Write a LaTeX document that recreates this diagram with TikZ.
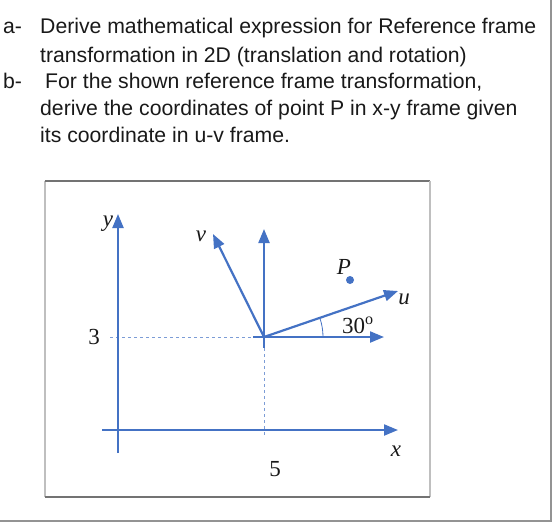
\documentclass[tikz,border=0pt]{standalone}
\usepackage{fontspec}
\setmainfont{Liberation Serif}
\newfontfamily\arialfont{Liberation Sans}
\usetikzlibrary{arrows.meta,calc}
\definecolor{axblue}{RGB}{68,114,196}
\definecolor{boxgray}{RGB}{120,120,120}
\begin{document}
\begin{tikzpicture}[x=1pt,y=-1pt,
  qtext/.style={anchor=base west,inner sep=0pt,font=\arialfont\fontsize{21.2}{24}\selectfont,text=black!90},
  axis/.style={draw=axblue,line width=2.2pt,-{Triangle[length=14pt,width=11pt]}},
  plain/.style={draw=axblue,line width=2.2pt},
  guide/.style={draw=axblue!70,line width=0.9pt,dash pattern=on 3pt off 3pt},
  lbl/.style={inner sep=0pt,font=\fontsize{23}{26}\selectfont,text=black!90}]
\useasboundingbox (0,0) rectangle (553,523);
% outer frame
\draw[boxgray!80,line width=2pt] (551,0) -- (551,521) -- (0,521);
% question text
\node[qtext] (la) at (3,33) {a-};
\node[qtext] (t1) at (40,33) {Derive mathematical expression for Reference frame};
\node[qtext] (t2) at (40,62) {transformation in 2D (translation and rotation)};
\node[qtext] (lb) at (3,88) {b-};
\node[qtext] (t3) at (45,88) {For the shown reference frame transformation,};
\node[qtext] (t4) at (40,115) {derive the coordinates of point P in x-y frame given};
\node[qtext] (t5) at (40,142) {its coordinate in u-v frame.};
% inner box
\draw[black!25,line width=1.3pt] (45,497) -- (45,181);
\draw[black!55,line width=1.3pt] (45,181) -- (430,181);
\draw[black!25,line width=1.3pt] (430,181) -- (430,497);
\draw[black!55,line width=1.3pt] (430,497) -- (45,497);
% coordinates
\coordinate (ytop) at (118,214);
\coordinate (ybot) at (118,453);
\coordinate (xl) at (102,430);
\coordinate (xr) at (398,430);
\coordinate (O) at (264,337);
\coordinate (Ol) at (253,337);
\coordinate (Ob) at (264,348);
\coordinate (Oup) at (264,229);
\coordinate (Ort) at (384,337);
\coordinate (utip) at (398,291);
\coordinate (vtip) at (213,234);
\coordinate (g3) at (110,337);
\coordinate (g5) at (264,437);
% guides
\draw[guide] (g3) -- (Ol);
\draw[guide] (Ob) -- (g5);
% axes
\draw[axis] (ybot) -- (ytop);
\draw[axis] (xl) -- (xr);
\draw[plain] (Ol) -- (O) -- (Ob);
\draw[axis] (O) -- (Oup);
\draw[axis] (O) -- (Ort);
\draw[axis] (O) -- (utip);
\draw[axis] (O) -- (vtip);
% angle arc
\draw[axblue,line width=0.8pt] ($(O)+(59,0)$) arc[start angle=0,end angle=-18.7,radius=59];
% point P
\node[circle,fill=axblue,inner sep=0pt,minimum size=8pt] (P) at (350,280) {};
% labels
\node[lbl] (ly) at (108,224) {\itshape y};
\node[lbl] (lv) at (201,236) {\itshape v};
\node[lbl] (lP) at (344,267) {\itshape P};
\node[lbl] (lu) at (404,299) {\itshape u};
\node[lbl] (lx) at (396,451) {\itshape x};
\node[lbl] (l3) at (94,337) {3};
\node[lbl] (l5) at (275,469) {5};
\node[lbl] (l30) at (358,325) {30\textsuperscript{o}};
\end{tikzpicture}
\end{document}
